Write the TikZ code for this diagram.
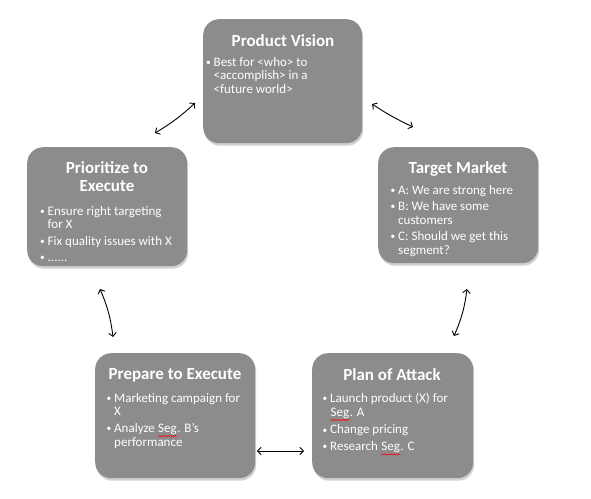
\documentclass[tikz,border=0pt]{standalone}
\usepackage{fontspec}
\setmainfont{Carlito}
\usetikzlibrary{arrows.meta,shadows,decorations.pathmorphing}
\definecolor{boxgray}{HTML}{8C8C8C}
\newcommand\redwave[1]{\tikz[baseline=(w.base),x=1pt,y=1pt]{\node[inner sep=0pt,text=white](w){#1};\draw[red,line width=0.5pt,decorate,decoration={snake,amplitude=0.6pt,segment length=2.4pt}] ([yshift=-1.5pt]w.south west) -- ([yshift=-1.5pt]w.south east);}}
\newcommand\bi{\makebox[7.5pt][l]{\raisebox{0.8pt}{\fontsize{9.5}{9.5}\selectfont\textbullet}}}
\newcommand\ci{\hspace*{7.5pt}}
\tikzset{
  card/.style={fill=boxgray, draw=none, rounded corners=16pt, inner sep=0pt, anchor=north west,
    drop shadow={shadow xshift=1pt, shadow yshift=-2.5pt, opacity=0.3, fill=black!60}},
  ttl/.style={anchor=north, inner sep=0pt, align=center, text=white, font=\bfseries\fontsize{17}{18}\selectfont},
  body/.style={anchor=north west, inner sep=0pt, align=left, text=white, font=\fontsize{13}{13.5}\selectfont},
  conn/.style={{Straight Barb[length=3.5pt,width=7.5pt]}-{Straight Barb[length=3.5pt,width=7.5pt]}, line width=0.9pt, black}
}
\begin{document}
\begin{tikzpicture}[x=1pt,y=-1pt]
\fill[white] (0,0) rectangle (591,498);
\useasboundingbox (0,0) rectangle (591,498);
% boxes
\node[card, minimum width=159pt, minimum height=124pt] (pv) at (203,19) {};
\node[card, minimum width=160pt, minimum height=119pt] (pr) at (27,147) {};
\node[card, minimum width=160pt, minimum height=116pt] (tm) at (378,147) {};
\node[card, minimum width=160pt, minimum height=125pt] (pe) at (95,353) {};
\node[card, minimum width=161pt, minimum height=125pt] (pa) at (312,353) {};
% titles
\node[ttl] (pvT) at (283,34.2) {Product Vision};
\node[ttl] (prT) at (107,161.2) {Prioritize to\\Execute};
\node[ttl] (tmT) at (458,161.2) {Target Market};
\node[ttl] (peT) at (175,368.2) {Prepare to Execute};
\node[ttl] (paT) at (392,368.2) {Plan of Attack};
% bodies
\node[body] (pvB) at (206,56.9) {\bi Best for <who> to\\\ci <accomplish> in a\\\ci <future world>};
\node[body] (prB) at (40,205.9) {\bi Ensure right targeting\\\ci for X\\[3pt]\bi Fix quality issues with X\\[3pt]\bi ......};
\node[body] (tmB) at (390.5,184.9) {\bi A: We are strong here\\[3pt]\bi B: We have some\\\ci customers\\[3pt]\bi C: Should we get this\\\ci segment?};
\node[body] (peB) at (106.5,392.9) {\bi Marketing campaign for\\\ci X\\[3pt]\bi Analyze \redwave{Seg}. B’s\\\ci performance};
\node[body] (paB) at (322.5,392.9) {\bi Launch product (X) for\\\ci \redwave{Seg}. A\\[3pt]\bi Change pricing\\[3pt]\bi Research \redwave{Seg}. C};
% connector ends
\coordinate (a1) at (195,103);
\coordinate (a2) at (155,133);
\coordinate (b1) at (372,104);
\coordinate (b2) at (413,127);
\coordinate (c1) at (100,289);
\coordinate (c2) at (113,337);
\coordinate (d1) at (467,289);
\coordinate (d2) at (454,336);
\coordinate (e1) at (257,451);
\coordinate (e2) at (304,451);
\draw[conn] (a1) to[bend left=6] (a2);
\draw[conn] (b1) to[bend right=4] (b2);
\draw[conn] (c1) to[bend left=8] (c2);
\draw[conn] (d1) to[bend left=8] (d2);
\draw[conn] (e1) -- (e2);
\end{tikzpicture}
\end{document}
